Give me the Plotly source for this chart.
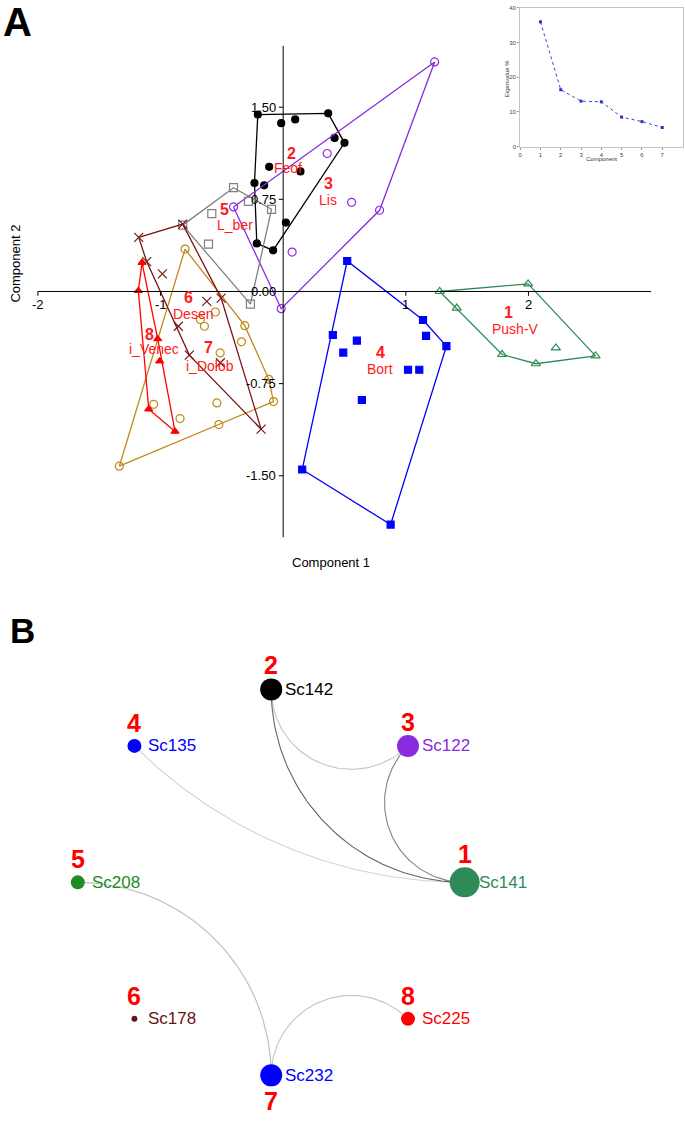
import numpy as np
import plotly.graph_objects as go

FONT = "Liberation Sans, Arial, sans-serif"
W, H = 685, 1147

# ---------------- Panel A data (PCA scores) ----------------
pushv_x = [1.276, 1.997, 1.415, 1.785, 2.06, 2.223, 2.547]
pushv_y = [0.0, 0.062, -0.135, -0.513, -0.588, -0.459, -0.524]

feof_x = [-0.207, 0.367, -0.016, 0.098, 0.419, 0.50, -0.114, 0.141, -0.234, -0.155, 0.022, -0.215, -0.082]
feof_y = [1.44, 1.45, 1.37, 1.40, 1.25, 1.21, 1.015, 0.977, 0.883, 0.864, 0.561, 0.391, 0.335]

lis_x = [1.235, 0.359, 0.558, 0.786, 0.073, -0.016, -0.405]
lis_y = [1.868, 1.123, 0.726, 0.661, 0.321, -0.14, 0.688]

bort_x = [0.522, 0.405, 0.49, 0.601, 0.642, 1.14, 1.165, 1.331, 1.018, 1.11, 0.155, 0.876]
bort_y = [0.248, -0.354, -0.497, -0.40, -0.883, -0.232, -0.362, -0.445, -0.637, -0.637, -1.449, -1.897]

lber_x = [-0.405, -0.283, -0.095, -0.582, -0.819, -0.609, -0.267]
lber_y = [0.845, 0.734, 0.669, 0.634, 0.54, 0.386, -0.103]

desen_x = [-0.80, -0.553, -0.675, -0.642, -0.313, -0.34, -0.514, -0.117, -0.079, -0.541, -1.056, -0.841, -0.525, -1.336]
desen_y = [0.345, -0.167, -0.229, -0.283, -0.278, -0.41, -0.50, -0.715, -0.896, -0.907, -0.918, -1.034, -1.083, -1.422]

dolob_x = [-1.178, -0.819, -1.113, -0.985, -0.623, -0.506, -0.855, -0.765, -0.512, -0.18]
dolob_y = [0.44, 0.548, 0.243, 0.143, -0.081, -0.054, -0.283, -0.518, -0.58, -1.12]

venec_x = [-1.151, -1.181, -1.023, -1.007, -1.096, -0.882]
venec_y = [0.235, 0.006, -0.386, -0.567, -0.958, -1.139]

group_numbers = ["1", "2", "3", "4", "5", "6", "7", "8"]
group_names = ["Push-V", "Feof", "Lis", "Bort", "L_ber", "Desen", "i_Dolob", "i_Venec"]

x_ticks = [-2, -1, 1, 2]
y_ticks = [1.50, 0.75, 0.00, -0.75, -1.50]

# Inset: scree plot
components = [1, 2, 3, 4, 5, 6, 7]
eigen_pct = [36.0, 16.4, 13.1, 12.9, 8.5, 7.2, 5.5]

# ---------------- Panel B data (network) ----------------
node_order = ["Sc142", "Sc122", "Sc141", "Sc225", "Sc232", "Sc178", "Sc208", "Sc135"]  # clockwise from top
node_numbers = ["2", "3", "1", "8", "7", "6", "5", "4"]
edge_src = ["Sc142", "Sc122", "Sc142", "Sc135", "Sc232", "Sc225"]
edge_tgt = ["Sc141", "Sc141", "Sc122", "Sc141", "Sc208", "Sc232"]
edge_weight = [0.85, 0.65, 0.25, 0.15, 0.30, 0.25]

# ---------------- styles ----------------
groups = [
    (pushv_x, pushv_y, "#2E8B57", "triangle-up-open", 8),
    (feof_x, feof_y, "#000000", "circle", 7),
    (lis_x, lis_y, "#8A2BE2", "circle-open", 8),
    (bort_x, bort_y, "#0000FF", "square", 7),
    (lber_x, lber_y, "#808080", "square-open", 8),
    (desen_x, desen_y, "#C08A1A", "circle-open", 8),
    (dolob_x, dolob_y, "#7A1515", "x-thin-open", 9),
    (venec_x, venec_y, "#FF0000", "triangle-up", 7),
]
name_pos = [(1.894, -0.305), (0.043, 1.007), (0.368, 0.747), (0.789, -0.629),
            (-0.393, 0.545), (-0.734, -0.18), (-0.599, -0.607), (-1.051, -0.467)]
num_pos = [(1.835, -0.17), (0.068, 1.125), (0.368, 0.877), (0.791, -0.499),
           (-0.482, 0.667), (-0.77, -0.05), (-0.612, -0.459), (-1.087, -0.35)]

node_colors = {"Sc141": "#2E8B57", "Sc142": "#000000", "Sc122": "#8A2BE2", "Sc135": "#0000FF",
               "Sc208": "#228B22", "Sc178": "#6B1212", "Sc232": "#0000FF", "Sc225": "#FF0000"}


def hull(xs, ys):
    pts = sorted(set(zip(xs, ys)))
    def cross(o, a, b):
        return (a[0]-o[0])*(b[1]-o[1]) - (a[1]-o[1])*(b[0]-o[0])
    lower, upper = [], []
    for p in pts:
        while len(lower) >= 2 and cross(lower[-2], lower[-1], p) <= 0:
            lower.pop()
        lower.append(p)
    for p in reversed(pts):
        while len(upper) >= 2 and cross(upper[-2], upper[-1], p) <= 0:
            upper.pop()
        upper.append(p)
    h = lower[:-1] + upper[:-1]
    h.append(h[0])
    return [p[0] for p in h], [p[1] for p in h]


fig = go.Figure()

# ---- Panel A traces ----
for (xs, ys, col, sym, sz) in groups:
    hx, hy = hull(xs, ys)
    fig.add_trace(go.Scatter(x=hx, y=hy, mode="lines", line=dict(color=col, width=1.3),
                             xaxis="x", yaxis="y", hoverinfo="skip", cliponaxis=False))
    fig.add_trace(go.Scatter(x=xs, y=ys, mode="markers",
                             marker=dict(symbol=sym, size=sz, color=col, opacity=1,
                                         line=dict(color=col, width=1.2)),
                             xaxis="x", yaxis="y", cliponaxis=False))

# ---- Inset scree plot ----
fig.add_trace(go.Scatter(x=components, y=eigen_pct, mode="lines+markers",
                         line=dict(color="#3A46D0", width=1, dash="dot"),
                         marker=dict(symbol="square", size=3, color="#2233CC"),
                         xaxis="x3", yaxis="y3", cliponaxis=False))

# ---- Panel B network ----
n = len(node_order)
ang = {name: np.pi/2 - 2*np.pi*i/n for i, name in enumerate(node_order)}
pos = {name: (np.cos(a), np.sin(a)) for name, a in ang.items()}
degree = {name: 0 for name in node_order}
for s, t in zip(edge_src, edge_tgt):
    degree[s] += 1
    degree[t] += 1


def arc(s, t, npts=80):
    a1, a2 = ang[s], ang[t]
    d = (a2 - a1) % (2*np.pi)
    if d > np.pi:
        d = 2*np.pi - d
        m = a2 + d/2
    else:
        m = a1 + d/2
    if abs(d - np.pi) < 1e-6:
        p1, p2 = np.array(pos[s]), np.array(pos[t])
        tt = np.linspace(0, 1, npts)
        pts = p1[None, :]*(1-tt[:, None]) + p2[None, :]*tt[:, None]
        return pts[:, 0], pts[:, 1]
    c = np.array([np.cos(m), np.sin(m)]) / np.cos(d/2)
    r = np.tan(d/2)
    v1 = np.array(pos[s]) - c
    v2 = np.array(pos[t]) - c
    b1 = np.arctan2(v1[1], v1[0])
    b2 = np.arctan2(v2[1], v2[0])
    db = (b2 - b1 + np.pi) % (2*np.pi) - np.pi
    bb = b1 + db*np.linspace(0, 1, npts)
    return c[0] + r*np.cos(bb), c[1] + r*np.sin(bb)


for s, t, w in sorted(zip(edge_src, edge_tgt, edge_weight), key=lambda e: e[2]):
    ax_, ay_ = arc(s, t)
    g = int(235 - 160*w)
    fig.add_trace(go.Scatter(x=ax_, y=ay_, mode="lines",
                             line=dict(color=f"rgb({g},{g},{g})", width=1.1),
                             xaxis="x2", yaxis="y2", hoverinfo="skip"))

fig.add_trace(go.Scatter(
    x=[pos[nm][0] for nm in node_order], y=[pos[nm][1] for nm in node_order],
    mode="markers",
    marker=dict(size=[6 + 8*degree[nm] for nm in node_order], opacity=1,
                color=[node_colors[nm] for nm in node_order], line=dict(width=0)),
    xaxis="x2", yaxis="y2", cliponaxis=False))

annotations = []
# Panel A group labels
for (lx, ly), (nx, ny), num, nm in zip(name_pos, num_pos, group_numbers, group_names):
    annotations.append(dict(x=lx, y=ly, xref="x", yref="y", text=nm, showarrow=False,
                            font=dict(family=FONT, size=14, color="#FF1A1A")))
    annotations.append(dict(x=nx, y=ny, xref="x", yref="y", text=f"<b>{num}</b>", showarrow=False,
                            font=dict(family=FONT, size=16, color="#FF1A1A")))
# Panel A tick labels
for v in x_ticks:
    annotations.append(dict(x=v, y=0, xref="x", yref="y", text=f"{v}", showarrow=False,
                            yanchor="top", yshift=-4, font=dict(family=FONT, size=13, color="#000")))
for v in y_ticks:
    annotations.append(dict(x=0, y=v, xref="x", yref="y", text=f"{v:.2f}", showarrow=False,
                            xanchor="right", xshift=-5, font=dict(family=FONT, size=13, color="#000")))


def paper_note(px, py, text, size, color="#000", angle=0):
    return dict(x=px/W, y=1-py/H, xref="paper", yref="paper", text=text, showarrow=False,
                xanchor="center", yanchor="middle", textangle=angle,
                font=dict(family=FONT, size=size, color=color))


annotations.append(paper_note(330, 562, "Component 1", 13))
annotations.append(paper_note(14, 262, "Component 2", 13, angle=-90))
annotations.append(paper_note(506, 76, "Eigenvalue %", 6, "#333", -90))
annotations.append(paper_note(601, 157, "Component", 6, "#333"))
annotations.append(paper_note(16, 19, "<b>A</b>", 40))
annotations.append(paper_note(21, 631, "<b>B</b>", 35))

# Panel B node labels
for nm, num in zip(node_order, node_numbers):
    x0, y0 = pos[nm]
    annotations.append(dict(x=x0, y=y0, xref="x2", yref="y2", text=nm, showarrow=False,
                            xanchor="left", xshift=12,
                            font=dict(family=FONT, size=17, color=node_colors[nm])))
    rad = (6 + 8*degree[nm]) / 2
    below = y0 < -0.99
    shift = -26 if below else max(23, rad + 13)
    annotations.append(dict(x=x0, y=y0, xref="x2", yref="y2", text=f"<b>{num}</b>", showarrow=False,
                            yshift=shift, font=dict(family=FONT, size=25, color="#FF0000")))

# Panel A axes drawn through origin
shapes = [
    dict(type="line", xref="x", yref="y", x0=-2, x1=3, y0=0, y1=0, line=dict(color="#000", width=1)),
    dict(type="line", xref="x", yref="y", x0=0, x1=0, y0=-2, y1=2, line=dict(color="#000", width=1)),
]
for v in x_ticks:
    shapes.append(dict(type="line", xref="x", yref="y", x0=v, x1=v, y0=0, y1=-0.035,
                       line=dict(color="#000", width=1)))
for v in y_ticks:
    shapes.append(dict(type="line", xref="x", yref="y", x0=0, x1=-0.035, y0=v, y1=v,
                       line=dict(color="#000", width=1)))

hidden = dict(visible=False, showgrid=False, zeroline=False)
inset_ax = dict(showline=True, mirror=True, linecolor="#C4C4C4", linewidth=1, showgrid=False,
                zeroline=False, ticks="outside", ticklen=2, tickcolor="#999",
                tickfont=dict(family=FONT, size=6, color="#444"))

fig.update_layout(
    width=W, height=H, margin=dict(l=0, r=0, t=0, b=0),
    paper_bgcolor="white", plot_bgcolor="rgba(0,0,0,0)", showlegend=False,
    xaxis=dict(domain=[23.7/W, 663.3/W], range=[-2.1, 3.1], **hidden),
    yaxis=dict(domain=[1-543.2/H, 1-36.8/H], range=[-2.05, 2.05], **hidden),
    xaxis2=dict(domain=[0, 1], range=[-270/194, (W-270)/194], anchor="y2", **hidden),
    yaxis2=dict(domain=[0, 1-600/H], range=[-(H-884)/194, (884-600)/194], anchor="x2", **hidden),
    xaxis3=dict(domain=[519.7/W, 682.5/W], range=[0, 8], anchor="y3",
                tickvals=[0, 1, 2, 3, 4, 5, 6, 7], **inset_ax),
    yaxis3=dict(domain=[1-144.3/H, 1-5/H], range=[0, 40], anchor="x3",
                tickvals=[0, 10, 20, 30, 40], **inset_ax),
    annotations=annotations, shapes=shapes,
)

fig.write_html("out.html", config={"displayModeBar": False},
               post_script="document.body.style.margin='0px';")
